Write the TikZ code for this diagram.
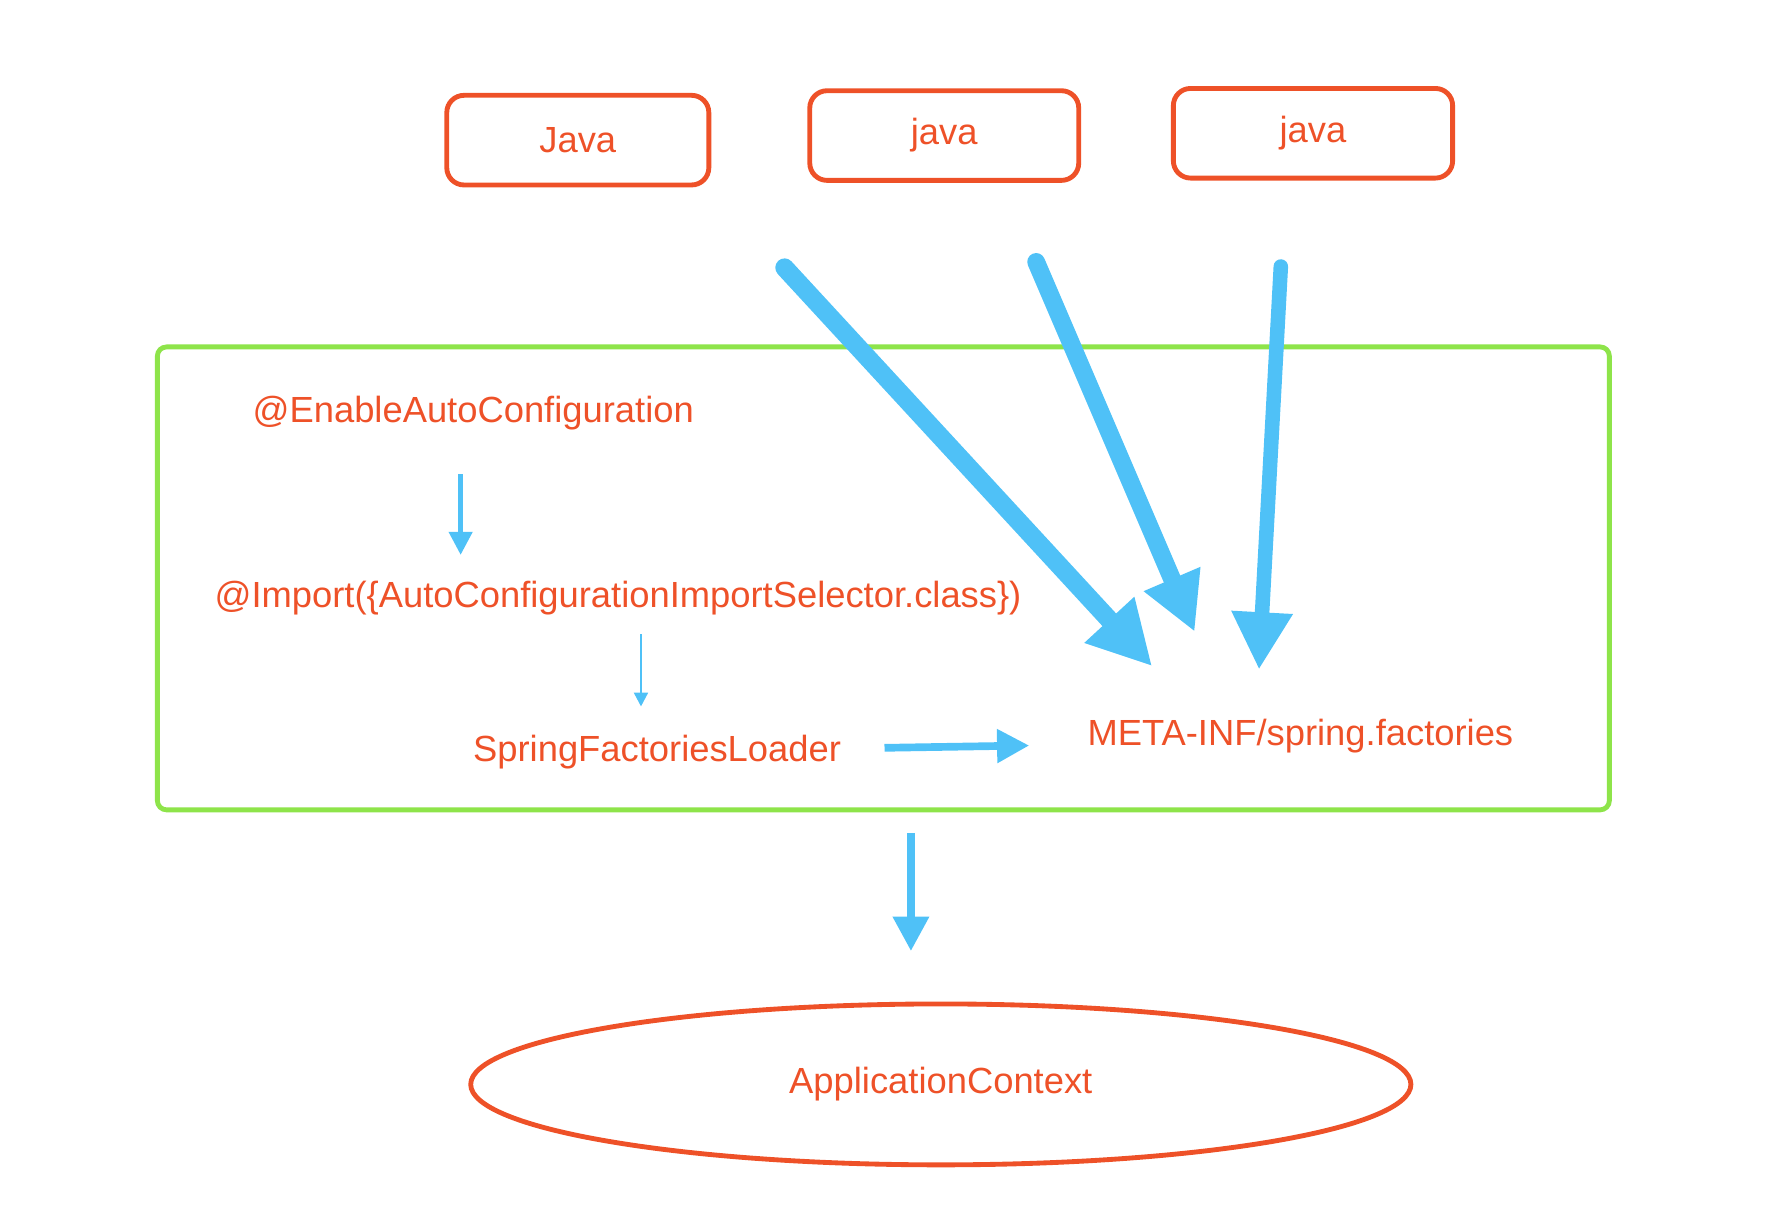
\documentclass[tikz,border=0pt]{standalone}
\usepackage{fontspec}
\setmainfont{Liberation Sans}
\usepackage{xcolor}
\usetikzlibrary{arrows.meta}
\usetikzlibrary{shapes.geometric}
\definecolor{springred}{HTML}{EE5128}
\definecolor{springgreen}{HTML}{8EE44A}
\definecolor{springblue}{HTML}{4FC1F7}
\tikzset{
	box/.style = {draw = springred, line width = 1.2pt, rounded corners = 1.5mm, text = springred},
	label/.style = {text = springred, font = \fontsize{9}{11}\selectfont},
	flow/.style = {springblue, -{Triangle[length = #1, width = #1]}}
}

\begin{document}
\begin{tikzpicture}[x = 0.01cm, y = -0.01cm]
		\useasboundingbox (0, 0) rectangle (1560, 1057);

		\begin{scope}[every node/.style={box, label, minimum height = 0.78cm}]
		\node (j1) [minimum width = 2.28cm] at (503, 122) {Java};
		\node (j2) [minimum width = 2.34cm] at (822, 118) {java};
		\node (j3) [minimum width = 2.43cm] at (1143, 116) {java};
		\end{scope}

		\draw [springgreen, line width = 1.2pt, rounded corners = 0.8mm] (137, 302) rectangle (1401, 705);

		\node (enable) [label] at (412, 360) {@EnableAutoConfiguration};
		\node (import) [label] at (538, 521) {@Import(\{AutoConfigurationImportSelector.class\})};
		\node (loader) [label] at (572, 655) {SpringFactoriesLoader};
		\node (meta) [label] at (1132, 641) {META-INF/spring.factories};
		\node (ctx) [ellipse, draw = springred, line width = 1.2pt, label, minimum width = 8.18cm, minimum height = 1.4cm] at (819, 944) {ApplicationContext};

		\coordinate (a1) at (683, 233);  \coordinate (b1) at (1003, 580);
		\coordinate (a2) at (902, 228);  \coordinate (b2) at (1040, 550);
		\coordinate (a3) at (1115, 232); \coordinate (b3) at (1096, 583);
		\coordinate (a4) at (401, 413);  \coordinate (b4) at (401, 483);
		\coordinate (a5) at (558, 552);  \coordinate (b5) at (558, 615);
		\coordinate (a6) at (770, 651);  \coordinate (b6) at (896, 649);
		\coordinate (a7) at (793, 725);  \coordinate (b7) at (793, 828);

		\draw [flow = 0.55cm, line width = 4.6pt, line cap = round] (a1) -- (b1);
		\draw [flow = 0.5cm, line width = 4.4pt, line cap = round] (a2) -- (b2);
		\draw [flow = 0.5cm, line width = 3.6pt, line cap = round] (a3) -- (b3);
		\draw [flow = 0.2cm, line width = 1.1pt] (a4) -- (b4);
		\draw [flow = 0.12cm, line width = 0.6pt] (a5) -- (b5);
		\draw [flow = 0.28cm, line width = 1.9pt] (a6) -- (b6);
		\draw [flow = 0.3cm, line width = 2pt] (a7) -- (b7);

		\end{tikzpicture}
\end{document}
